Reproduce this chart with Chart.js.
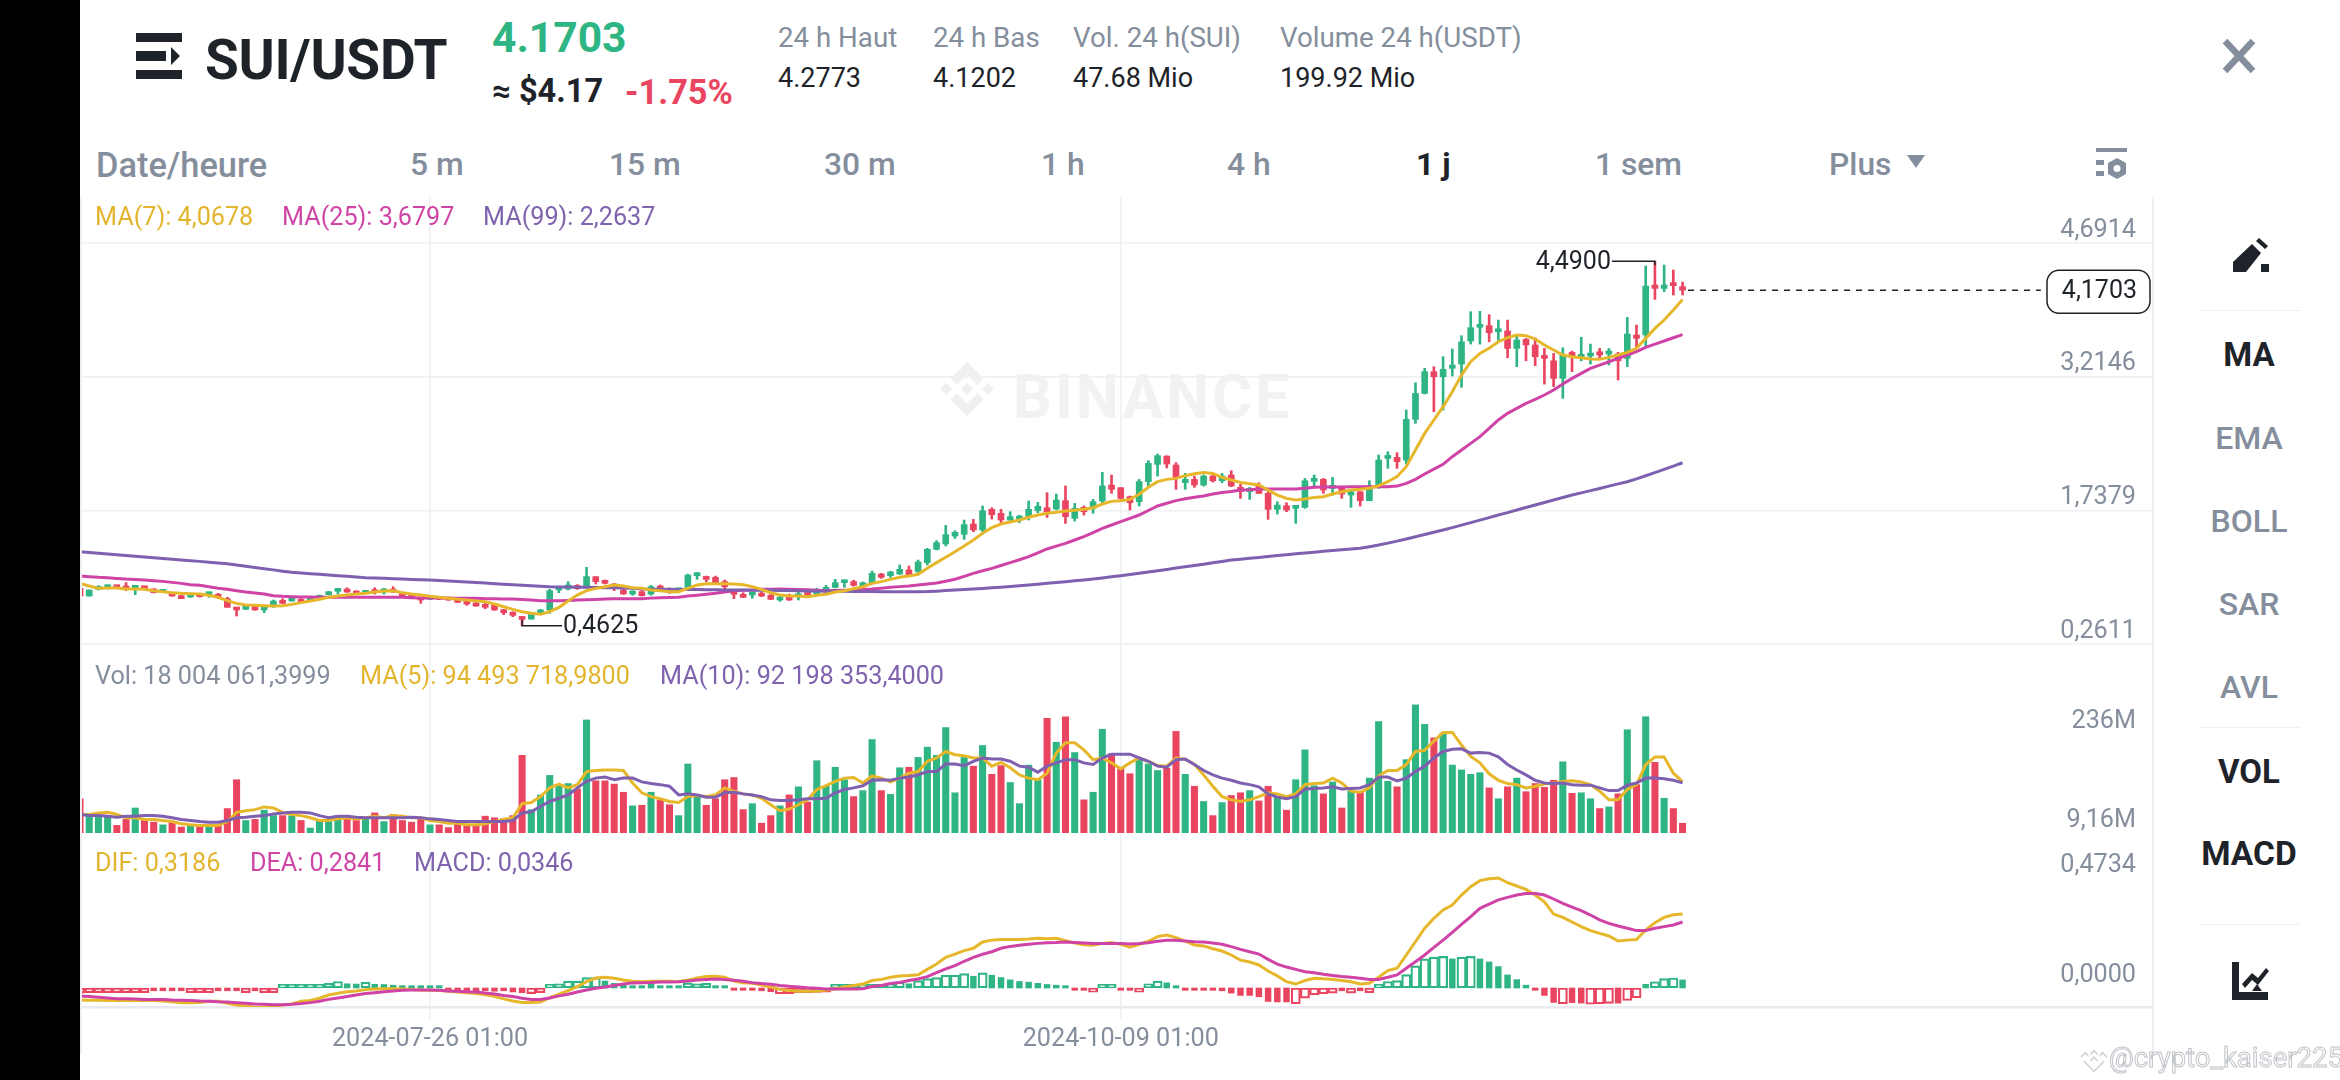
<!DOCTYPE html>
<html><head><meta charset="utf-8">
<script src="https://cdn.jsdelivr.net/npm/chart.js@4"></script>
<style>
html,body{margin:0;padding:0;background:#fff;width:2340px;height:1080px;overflow:hidden;font-family:Roboto,sans-serif;color:#1E2329}
canvas{position:absolute;left:80px}
.t{position:absolute;white-space:nowrap;line-height:1;transform:translateY(-50%)}
.c{transform:translate(-50%,-50%)}
.g{color:#848E9C}.b{font-weight:700}.m{font-weight:500}
.y{color:#E3B52E}.p{color:#CF45A6}.v{color:#7F63AE}
.l{font-size:25.2px}.h{font-size:27.7px}.hv{font-size:27px}.tab{font-size:31.8px;font-weight:500;color:#848E9C}.s{font-size:32px;font-weight:500;color:#848E9C}
.sep{position:absolute;left:2199px;width:102px;height:1px;background:#EEF0F2}
svg{position:absolute}
</style></head><body>
<svg style="left:940px;top:362px" width="54" height="54" viewBox="6 6 20 20"><path fill="#EFF0F2" d="M12.116 14.404L16 10.52l3.886 3.886 2.26-2.26L16 6l-6.144 6.144 2.26 2.26zM6 16l2.26-2.26L10.52 16l-2.26 2.26L6 16zm6.116 1.596L16 21.48l3.886-3.886 2.26 2.259L16 26l-6.144-6.144-.003-.003 2.263-2.257zM21.48 16l2.26-2.26L26 16l-2.26 2.26L21.48 16zm-3.188-.002h.002V16L16 18.294l-2.291-2.29-.004-.004.004-.003.401-.402.195-.195L16 13.706l2.293 2.293z"/></svg>
<div class="t b" style="left:1013px;top:397px;font-size:61px;letter-spacing:3px;color:#F1F2F3">BINANCE</div>

<canvas id="priceChart" width="2072" height="449" style="top:197px"></canvas>
<canvas id="volChart" width="2072" height="191" style="top:644px"></canvas>
<canvas id="macdChart" width="2072" height="226" style="top:834px"></canvas>

<div style="position:absolute;left:0;top:0;width:80px;height:1080px;background:#000"></div>
<div style="position:absolute;left:80px;top:197px;width:1.5px;height:857px;background:#EEF0F2"></div>
<div style="position:absolute;left:2152px;top:197px;width:1.5px;height:857px;background:#EEF0F2"></div>

<svg style="left:136px;top:33px" width="48" height="46" viewBox="0 0 48 46"><path d="M0 0H46V9H0ZM0 37H46V46H0ZM0 18H30V28H0ZM35 14L44 23L35 32Z" fill="#1E2329"/></svg>
<div class="t b" style="left:205px;top:60px;font-size:55px;letter-spacing:-.3px">SUI/USDT</div>
<div class="t b" style="left:492px;top:37px;font-size:42.6px;color:#2FB583">4.1703</div>
<div class="t b" style="left:492px;top:91px;font-size:32.6px">≈ $4.17</div>
<div class="t b" style="left:625px;top:92px;font-size:34.3px;color:#EA4560">-1.75%</div>
<div class="t h g" style="left:778px;top:38px">24 h Haut</div><div class="t hv" style="left:778px;top:78px">4.2773</div>
<div class="t h g" style="left:933px;top:38px">24 h Bas</div><div class="t hv" style="left:933px;top:78px">4.1202</div>
<div class="t h g" style="left:1073px;top:38px">Vol. 24 h(SUI)</div><div class="t hv" style="left:1073px;top:78px">47.68 Mio</div>
<div class="t h g" style="left:1280px;top:38px">Volume 24 h(USDT)</div><div class="t hv" style="left:1280px;top:78px">199.92 Mio</div>
<svg style="left:2222px;top:38px" width="34" height="36" viewBox="0 0 34 36"><path d="M3 3L31 33M31 3L3 33" stroke="#848E9C" stroke-width="6.5" fill="none"/></svg>

<div class="t tab" style="left:96px;top:164.5px;font-size:34.4px">Date/heure</div>
<div class="t tab" style="left:410px;top:164.5px">5 m</div>
<div class="t tab" style="left:609px;top:164.5px">15 m</div>
<div class="t tab" style="left:824px;top:164.5px">30 m</div>
<div class="t tab" style="left:1041px;top:164.5px">1 h</div>
<div class="t tab" style="left:1227px;top:164.5px">4 h</div>
<div class="t tab b" style="left:1416px;top:164.5px;color:#1E2329;font-weight:700">1 j</div>
<div class="t tab" style="left:1595px;top:164.5px">1 sem</div>
<div class="t tab" style="left:1829px;top:164.5px">Plus</div>
<svg style="left:1907px;top:155px" width="18" height="14" viewBox="0 0 18 14"><path d="M0 0H18L9 13Z" fill="#848E9C"/></svg>
<svg style="left:2094px;top:147px" width="34" height="34" viewBox="0 0 34 34"><path d="M2 1H33V5H2ZM2 13H10V18H2ZM2 24H10V29H2Z" fill="#848E9C"/><path d="M23 11L32 16V27L23 32L14 27V16Z M23 18A3.5 3.5 0 1 0 23 25A3.5 3.5 0 1 0 23 18Z" fill="#848E9C" fill-rule="evenodd"/></svg>

<div class="t l y" style="left:95px;top:216.5px">MA(7): 4,0678</div>
<div class="t l p" style="left:282px;top:216.5px">MA(25): 3,6797</div>
<div class="t l v" style="left:483px;top:216.5px">MA(99): 2,2637</div>
<div class="t l g" style="left:95px;top:675.5px">Vol: 18 004 061,3999</div>
<div class="t l y" style="left:360px;top:675.5px">MA(5): 94 493 718,9800</div>
<div class="t l v" style="left:660px;top:675.5px">MA(10): 92 198 353,4000</div>
<div class="t l y" style="left:95px;top:862.5px">DIF: 0,3186</div>
<div class="t l p" style="left:250px;top:862.5px">DEA: 0,2841</div>
<div class="t l v" style="left:414px;top:862.5px">MACD: 0,0346</div>

<svg style="left:2232px;top:238px" width="38" height="36" viewBox="0 0 38 36"><path d="M1 34V24L20 6L29 15L14 34Z" fill="#1E2329"/><path d="M24 3L27 0L36 8L33 11Z M29 26H37V34H29Z" fill="#1E2329"/></svg>
<div class="sep" style="top:310px"></div>
<div class="t c b" style="left:2249px;top:354px;font-size:33px">MA</div>
<div class="t c s" style="left:2249px;top:438px">EMA</div>
<div class="t c s" style="left:2249px;top:521px">BOLL</div>
<div class="t c s" style="left:2249px;top:604px">SAR</div>
<div class="t c s" style="left:2249px;top:687px">AVL</div>
<div class="sep" style="top:727px"></div>
<div class="t c b" style="left:2249px;top:771px;font-size:33px">VOL</div>
<div class="t c b" style="left:2249px;top:854px;font-size:33.5px">MACD</div>
<div class="sep" style="top:924px"></div>
<svg style="left:2232px;top:962px" width="38" height="38" viewBox="0 0 38 38"><path d="M0 0H7V30H36V38H0Z" fill="#1E2329"/><path d="M10 22L20 11L26 16L34 6L37 9L26 23L20 18L13 26Z" fill="#1E2329"/><path d="M20 29L25 22L30 29Z" fill="#1E2329"/></svg>

<svg style="left:2080px;top:1049px" width="28" height="24" viewBox="0 0 30 24"><path d="M1 8L6 3L9 7M29 8L24 3L21 7M11 5L15 1L19 5M4 12L15 23L26 12M11 12L15 8L19 12" stroke="#C9CDD2" stroke-width="1.5" fill="none"/></svg>
<div class="t" style="left:2109px;top:1058px;font-size:27.5px;color:#fff;-webkit-text-stroke:1px #BFC3C8">@crypto_kaiser225</div>

<script>
/* candles: index 0 = 2024-06-18, one per day */
const indexes = [];
for (let i = 0; i < 175; i++) indexes.push(i);

const xTickIndexes = [38, 113];
const xTickLabels = ['2024-07-26 01:00', '2024-10-09 01:00'];
const priceTicks = [0.2611, 1.7379, 3.2146, 4.6914];
const volTop = [236];
const volBottom = [9.16];
const macdTicks = [0, 0.4734];
const lastPrice = 4.1703;
const highMark = 4.49;
const lowMark = 0.4625;

const priceOpen = [.876,.791,.865,.883,.905,.902,.876,.894,.869,.832,
.828,.784,.780,.813,.806,.806,.762,.662,.644,.684,
.637,.681,.740,.736,.747,.747,.766,.806,.843,.865,
.835,.821,.850,.835,.858,.817,.799,.773,.755,.777,
.766,.747,.725,.703,.695,.688,.629,.600,.563,.537,
.600,.637,.858,.869,.909,.883,1.005,.953,.924,.858,
.813,.839,.813,.902,.876,.850,.869,1.016,1.005,.997,
.950,.828,.806,.802,.821,.799,.747,.784,.784,.839,
.813,.839,.887,.939,.950,.894,.931,1.034,1.016,1.034,
1.079,1.06,1.16,1.307,1.366,1.454,1.473,1.587,1.521,1.749,
1.705,1.631,1.638,1.668,1.734,1.767,1.753,1.845,1.65,1.771,
1.76,1.841,2.018,1.988,1.889,1.834,2.055,2.246,2.338,2.239,
2.044,2.08,2.017,2.117,2.065,2.128,1.992,1.944,2.006,1.925,
1.749,1.789,1.76,1.771,2.058,2.08,1.981,1.999,1.907,1.944,
1.844,2.0,2.312,2.323,2.294,2.743,3.03,3.27,3.214,3.307,
3.354,3.609,3.76,3.778,3.711,3.72,3.527,3.627,3.565,3.435,
3.39,3.196,3.483,3.428,3.443,3.49,3.465,3.465,3.417,3.675,
3.675,4.227,4.19,4.253,4.209];

const priceClose = [.791,.858,.894,.905,.883,.865,.902,.872,.828,.858,
.791,.762,.817,.784,.828,.777,.666,.637,.688,.637,
.666,.736,.710,.762,.721,.773,.791,.839,.872,.835,
.813,.846,.828,.869,.835,.795,.777,.747,.777,.755,
.747,.721,.703,.681,.666,.637,.607,.578,.533,.589,
.637,.850,.876,.913,.872,1.005,.950,.931,.880,.813,
.839,.795,.894,.858,.828,.868,1.023,1.034,.975,.939,
.894,.81,.777,.821,.791,.755,.777,.747,.813,.802,
.85,.887,.939,.957,.909,.939,1.042,.997,1.057,1.086,
1.023,1.167,1.307,1.381,1.469,1.495,1.58,1.521,1.734,1.69,
1.631,1.668,1.675,1.749,1.782,1.72,1.852,1.668,1.76,1.723,
1.834,2.007,1.97,1.87,1.822,2.055,2.257,2.342,2.25,2.103,
2.08,2.018,2.117,2.065,2.117,2.006,1.944,1.981,1.925,1.749,
1.796,1.741,1.778,2.065,2.08,1.962,2.006,1.918,1.944,1.844,
1.981,2.294,2.338,2.276,2.743,3.03,3.27,3.214,3.295,3.343,
3.6,3.756,3.785,3.7,3.73,3.527,3.62,3.565,3.435,3.417,
3.196,3.454,3.435,3.454,3.472,3.454,3.49,3.39,3.686,3.638,
4.216,4.19,4.227,4.22,4.1703];

const priceHigh = [.876,.858,.905,.913,.909,.939,.909,.898,.872,.861,
.832,.802,.821,.817,.835,.821,.777,.662,.692,.688,
.688,.747,.762,.766,.762,.780,.802,.843,.876,.883,
.850,.850,.883,.876,.894,.821,.802,.777,.780,.780,
.769,.751,.736,.718,.718,.692,.644,.618,.563,.593,
.644,.865,.883,.950,.917,1.108,1.005,.968,.931,.876,
.850,.850,.909,.913,.88,.875,1.034,1.049,1.012,1.012,
.968,.832,.828,.825,.835,.821,.784,.813,.835,.858,
.876,.909,.975,.96,.965,.946,1.068,1.042,1.064,1.134,
1.123,1.189,1.318,1.403,1.572,1.513,1.631,1.638,1.786,1.767,
1.749,1.723,1.683,1.841,1.826,1.933,1.918,2.007,1.815,1.786,
1.86,2.158,2.128,1.99,1.896,2.08,2.287,2.36,2.34,2.265,
2.147,2.117,2.128,2.128,2.146,2.176,2.025,1.992,2.043,1.944,
1.833,1.822,1.78,2.09,2.128,2.09,2.102,2.006,1.97,1.944,
2.065,2.349,2.386,2.375,2.846,3.148,3.307,3.325,3.435,3.52,
3.667,3.933,3.936,3.9,3.84,3.84,3.682,3.638,3.645,3.527,
3.472,3.535,3.498,3.65,3.575,3.527,3.527,3.483,3.87,3.785,
4.437,4.49,4.448,4.393,4.26];

const priceLow = [.791,.791,.858,.869,.880,.850,.806,.869,.825,.828,
.788,.762,.777,.780,.777,.762,.666,.570,.640,.633,
.607,.666,.706,.732,.718,.743,.758,.802,.813,.832,
.810,.817,.813,.813,.832,.791,.773,.710,.751,.751,
.743,.718,.688,.677,.651,.633,.585,.563,.4625,.533,
.593,.600,.828,.858,.865,.880,.924,.924,.85,.81,
.799,.79,.799,.85,.82,.84,.85,.976,.95,.935,
.865,.762,.773,.766,.784,.75,.732,.743,.747,.784,
.80,.828,.88,.887,.90,.89,.924,.987,.997,1.03,
1.005,1.023,1.134,1.30,1.344,1.428,1.417,1.502,1.502,1.642,
1.594,1.624,1.602,1.631,1.712,1.66,1.742,1.594,1.62,1.686,
1.705,1.815,1.926,1.86,1.742,1.786,2.007,2.117,2.206,1.97,
1.97,1.992,2.006,2.05,2.043,1.999,1.87,1.859,1.925,1.638,
1.697,1.723,1.594,1.76,2.006,1.925,1.907,1.87,1.771,1.785,
1.844,1.981,2.202,2.202,2.25,2.699,3.023,2.828,2.846,3.222,
3.097,3.575,3.575,3.6,3.6,3.424,3.325,3.39,3.336,3.133,
3.104,2.975,3.27,3.39,3.354,3.417,3.343,3.178,3.325,3.546,
3.546,4.069,4.154,4.117,4.117];

const ma7 = [.931,.902,.876,.880,.880,.869,.869,.865,.850,.839,
.828,.821,.817,.813,.799,.777,.740,.710,.692,.688,
.684,.681,.684,.699,.718,.736,.755,.777,.791,.802,
.813,.821,.835,.847,.850,.828,.813,.802,.788,.777,
.766,.755,.747,.736,.729,.703,.673,.644,.618,.600,
.589,.618,.666,.736,.802,.850,.876,.894,.913,.902,
.883,.876,.858,.850,.839,.839,.876,.913,.928,.928,
.928,.924,.917,.894,.865,.828,.802,.791,.791,.784,
.799,.810,.836,.850,.872,.894,.931,.950,.975,.998,
1.012,1.031,1.097,1.160,1.219,1.281,1.344,1.410,1.484,1.546,
1.587,1.609,1.631,1.661,1.686,1.705,1.716,1.731,1.738,1.749,
1.767,1.808,1.837,1.845,1.859,1.915,1.992,2.055,2.080,2.091,
2.121,2.143,2.157,2.146,2.102,2.073,2.047,2.032,2.018,1.962,
1.907,1.870,1.852,1.863,1.881,1.889,1.918,1.944,1.962,1.970,
1.981,2.010,2.054,2.110,2.22,2.404,2.588,2.736,2.883,3.049,
3.233,3.38,3.472,3.528,3.601,3.645,3.675,3.668,3.631,3.564,
3.509,3.454,3.435,3.424,3.41,3.406,3.428,3.454,3.483,3.528,
3.638,3.748,3.841,3.951,4.0678];

const ma25 = [1.012,1.005,.998,.994,.986,.979,.975,.968,.961,.953,
.942,.931,.916,.909,.894,.876,.865,.85,.835,.824,
.813,.795,.788,.784,.78,.78,.777,.777,.777,.777,
.777,.777,.777,.777,.777,.777,.773,.769,.769,.769,
.766,.766,.766,.766,.762,.762,.758,.758,.754,.747,
.74,.74,.74,.743,.747,.751,.754,.758,.762,.762,
.762,.762,.768,.773,.775,.777,.791,.801,.811,.821,
.836,.85,.854,.858,.865,.867,.869,.867,.864,.861,
.855,.85,.853,.855,.858,.864,.869,.878,.887,.895,
.902,.913,.924,.935,.955,.976,1.008,1.042,1.07,1.097,
1.128,1.16,1.192,1.226,1.268,1.311,1.342,1.373,1.41,1.447,
1.492,1.539,1.576,1.613,1.65,1.686,1.736,1.786,1.816,1.845,
1.865,1.883,1.896,1.918,1.936,1.947,1.962,1.966,1.973,1.973,
1.973,1.973,1.973,1.981,1.992,1.995,1.995,1.995,1.999,1.999,
1.999,1.999,1.999,2.006,2.036,2.08,2.139,2.194,2.246,2.331,
2.404,2.478,2.552,2.644,2.736,2.81,2.865,2.92,2.964,3.012,
3.067,3.134,3.196,3.251,3.307,3.343,3.38,3.417,3.454,3.491,
3.539,3.575,3.609,3.645,3.6797];

const ma99 = [1.281,1.273,1.264,1.256,1.248,1.24,1.231,1.223,1.215,1.206,
1.198,1.19,1.182,1.174,1.165,1.157,1.148,1.134,1.12,1.107,
1.093,1.08,1.066,1.053,1.046,1.038,1.031,1.024,1.016,1.009,
1.001,.994,.990,.987,.983,.979,.975,.972,.968,.963,
.957,.951,.946,.94,.934,.928,.922,.917,.911,.905,
.899,.894,.892,.89,.888,.887,.885,.883,.882,.88,
.878,.869,.867,.866,.865,.864,.863,.862,.861,.860,
.859,.858,.857,.856,.855,.854,.852,.851,.849,.848,
.847,.845,.844,.843,.842,.841,.840,.839,.839,.839,
.839,.839,.840,.845,.851,.857,.863,.869,.875,.882,
.889,.896,.905,.913,.922,.932,.941,.950,.959,.968,
.979,.991,1.003,1.016,1.03,1.042,1.056,1.07,1.084,1.1,
1.115,1.128,1.143,1.158,1.173,1.188,1.198,1.208,1.218,1.228,
1.238,1.248,1.258,1.267,1.276,1.285,1.294,1.303,1.311,1.318,
1.335,1.354,1.376,1.398,1.421,1.446,1.471,1.496,1.521,1.547,
1.574,1.602,1.63,1.658,1.686,1.713,1.741,1.769,1.797,1.825,
1.852,1.88,1.907,1.931,1.956,1.98,2.005,2.03,2.054,2.085,
2.12,2.155,2.19,2.226,2.2637];

const volume = [63,31,29,31,14,25,46,23,20,15,
19,11,14,12,12,13,45,98,23,25,
42,32,32,32,23,9.16,23,21,32,25,
23,26,37,21,34,23,20,25,15,15,
10,17,15,15,31,28,26,32,143,43,
70,106,86,91,81,208,96,96,90,75,
50,51,75,61,52,32,127,66,51,63,
98,102,43,54,18,32,50,70,85,57,
133,86,121,98,67,78,172,78,71,120,
121,139,158,143,194,74,139,123,161,108,
124,93,54,125,98,211,167,214,148,61,
75,191,146,118,109,134,127,115,119,187,
108,86,58,32,56,69,74,78,59,86,
67,42,98,153,87,72,94,46,77,75,
101,205,95,85,135,236,200,175,184,125,
116,108,111,83,63,85,101,76,91,84,
97,131,73,74,63,45,48,72,190,89,
214,130,64,45,18.0];

const volMa5 = [34,34,37,38,34,28,28,25,25,23,
21,17,15,14,14,14,21,38,41,43,
48,46,38,34,32,28,23,23,26,28,
26,28,31,28,32,31,28,28,23,21,
18,18,15,15,17,21,25,28,54,56,
67,83,90,83,89,113,115,116,116,115,
92,74,67,63,58,56,67,69,67,70,
83,77,72,70,64,52,41,44,52,61,
80,87,95,101,102,92,105,101,94,101,
110,113,132,138,150,144,142,138,138,123,
130,120,107,101,98,110,147,166,166,153,
135,138,129,118,129,138,132,124,123,138,
136,126,107,86,67,61,58,61,67,74,
72,67,72,89,91,92,101,92,77,75,
83,105,115,115,126,150,152,169,185,185,
162,141,129,109,97,91,89,83,86,90,
92,95,96,94,89,77,61,61,80,89,
126,140,140,110,94.49];

const volMa10 = [34,32,32,31,29,31,31,32,32,31,
28,25,23,21,20,20,23,28,29,31,
32,35,37,38,38,37,32,28,31,31,
29,28,28,28,28,28,29,28,26,25,
23,21,21,21,21,21,21,23,37,39,
49,58,64,70,83,95,101,103,98,101,
101,94,91,89,86,70,72,70,66,66,
74,75,72,70,67,61,60,60,61,63,
63,64,74,80,83,87,97,98,97,101,
103,107,113,113,127,127,124,132,138,136,
136,132,123,121,112,123,129,135,135,129,
126,138,145,145,145,138,132,123,121,135,
136,126,115,107,101,97,92,89,85,72,
66,63,67,81,82,83,85,81,82,83,
89,103,103,96,101,113,123,138,150,154,
155,147,148,147,140,126,116,107,97,92,
91,92,89,88,88,83,78,78,88,92,
101,101,100,97,92.2];

const dif = [-.052,-.053,-.053,-.054,-.054,-.054,-.054,-.054,-.054,-.056,
-.059,-.063,-.063,-.062,-.057,-.057,-.066,-.073,-.077,-.083,
-.083,-.079,-.073,-.069,-.057,-.054,-.044,-.030,-.023,-.016,
-.013,-.007,-.004,-.003,-.003,-.004,-.007,-.009,-.010,-.011,
-.014,-.017,-.020,-.024,-.029,-.036,-.047,-.056,-.062,-.062,
-.060,-.042,-.027,-.011,.006,.027,.043,.046,.042,.034,
.029,.027,.029,.029,.029,.027,.034,.043,.049,.050,
.046,.030,.023,.020,.013,.004,-.006,-.011,-.014,-.014,
-.013,-.009,-.003,.004,.011,.017,.032,.037,.046,.052,
.054,.057,.080,.103,.132,.146,.161,.171,.198,.206,
.209,.209,.209,.211,.214,.212,.214,.204,.194,.186,
.184,.192,.196,.188,.176,.188,.201,.221,.228,.217,
.202,.185,.181,.169,.159,.142,.120,.112,.099,.073,
.052,.027,.017,.032,.042,.040,.037,.032,.027,.017,
.020,.046,.075,.085,.142,.199,.257,.300,.336,.357,
.400,.436,.462,.470,.4734,.453,.439,.424,.400,.371,
.318,.304,.284,.264,.247,.235,.224,.202,.206,.209,
.250,.281,.304,.315,.3186];

const dea = [-.034,-.037,-.040,-.043,-.046,-.046,-.047,-.049,-.049,-.050,
-.052,-.053,-.054,-.056,-.057,-.059,-.060,-.063,-.066,-.069,
-.070,-.072,-.072,-.070,-.067,-.063,-.057,-.049,-.043,-.037,
-.030,-.024,-.020,-.016,-.013,-.010,-.009,-.009,-.009,-.010,
-.013,-.014,-.016,-.017,-.022,-.026,-.032,-.037,-.044,-.049,
-.049,-.043,-.034,-.027,-.017,-.009,-.001,.004,.011,.017,
.022,.023,.024,.026,.026,.027,.030,.034,.037,.039,
.037,.033,.029,.023,.019,.016,.011,.007,.004,.001,
-.001,-.004,-.004,-.004,-.004,-.003,.006,.011,.019,.024,
.032,.039,.049,.066,.082,.096,.115,.132,.145,.156,
.171,.179,.184,.188,.192,.195,.196,.198,.196,.194,
.192,.192,.192,.192,.189,.191,.195,.201,.205,.205,
.202,.199,.198,.194,.188,.178,.166,.156,.146,.123,
.103,.090,.080,.070,.066,.059,.054,.049,.046,.042,
.037,.037,.046,.056,.085,.113,.142,.175,.206,.239,
.274,.307,.343,.361,.379,.390,.400,.407,.407,.400,
.383,.364,.348,.333,.314,.293,.278,.267,.257,.247,
.247,.257,.264,.271,.2841];

const macd = [-.022,-.02,-.02,-.02,-.02,-.02,-.02,-.02,-.012,-.012,
-.012,-.012,-.02,-.02,-.02,-.012,-.012,-.012,-.02,-.012,
-.02,-.02,.016,.016,.016,.016,.016,.02,.028,.018,
.017,.025,.016,.015,.012,.01,.01,.01,.01,.01,
-.01,-.01,-.012,-.012,-.012,-.014,-.012,-.017,-.02,-.024,
-.02,.016,.018,.03,.03,.045,.045,.03,.02,.012,
.01,.01,.02,.01,.01,.01,.022,.018,.02,.01,
.01,-.01,-.01,-.01,-.012,-.016,-.025,-.024,-.02,-.02,
-.019,-.018,.016,.016,.016,.016,.016,.016,.018,.025,
.018,.032,.04,.045,.055,.055,.062,.05,.065,.055,
.045,.035,.028,.025,.02,.015,.012,.01,-.01,-.01,
-.018,.016,.016,-.01,-.01,-.018,.018,.03,.022,.01,
-.01,-.01,-.01,-.01,-.012,-.022,-.032,-.032,-.038,-.058,
-.06,-.06,-.068,-.044,-.03,-.025,-.022,-.012,-.022,-.012,
-.02,.016,.028,.032,.058,.095,.125,.133,.136,.125,
.133,.136,.125,.112,.092,.056,.036,.012,-.01,-.032,
-.062,-.068,-.063,-.065,-.07,-.068,-.066,-.065,-.054,-.042,
.016,.027,.04,.043,.0346];

/* days on which the histogram rose against the day before (drawn hollow) */
const macdRisingDays = [0,1,2,3,4,5,6,7,12,13,14,18,20,21,22,23,24,25,26,27,28,31,49,50,51,52,53,54,55,56,
66,67,68,76,77,78,79,80,81,82,83,84,85,86,87,88,89,91,92,93,94,95,96,98,110,111,112,115,116,117,
132,133,134,135,136,138,140,141,142,143,144,145,146,147,148,150,151,161,164,165,166,168,169,171,172,173];

const UP = '#2FB583', DOWN = '#EA4560', YEL = '#E6B72B', PINK = '#D043A6', PUR = '#7F5FAF';
const GRID = '#EEF0F2', TXT = '#848E9C', DARK = '#1E2329';
const FONT = {family: 'Roboto', size: 25.2};
const PITCH_MAX = 224.97;

const upAt = i => priceClose[i] >= priceOpen[i];
const candleColor = ctx => upAt(ctx.dataIndex) ? UP : DOWN;
const zeroPad = s => { s.paddingTop = s.paddingBottom = s.paddingLeft = s.paddingRight = 0; };

function xAxis(showLabels) {
  return {
    type: 'linear', min: 0, max: PITCH_MAX, offset: false,
    grid: {color: GRID, lineWidth: 1.5, offset: false, drawTicks: showLabels, tickLength: 13},
    border: {display: showLabels, color: '#E8EAF0', width: 2.5},
    afterBuildTicks: s => { s.ticks = xTickIndexes.map(v => ({value: v})); },
    ticks: {display: showLabels, font: {family: 'Roboto', size: 25.2}, color: TXT, padding: 5, maxRotation: 0, autoSkip: false,
      callback: v => xTickLabels[xTickIndexes.indexOf(v)]},
    afterFit: s => { zeroPad(s); s.height = showLabels ? 53 : 0; }
  };
}
function yAxis(min, max, tickVals, fmt, labelOffset, gridOn) {
  return {
    type: 'linear', position: 'right', min, max,
    grid: {display: gridOn, color: GRID, lineWidth: 1.5, drawTicks: false},
    border: {display: false},
    afterBuildTicks: s => { s.ticks = tickVals.map(v => ({value: v})); },
    ticks: {mirror: true, padding: -16, labelOffset, font: FONT, color: TXT, callback: fmt},
    afterFit: s => { zeroPad(s); s.width = 0; }
  };
}
const line = (data, color, order, yAxisID) => ({type: 'line', data, yAxisID: yAxisID || 'y', borderColor: color, borderWidth: 3,
  pointRadius: 0, tension: 0, order, fill: false});
const comma = (v, d) => v.toFixed(d).replace('.', ',');
const base = (padBottom) => ({responsive: false, animation: false, devicePixelRatio: 1, events: [],
  layout: {padding: {left: 0, right: 0, top: 0, bottom: padBottom}},
  plugins: {legend: {display: false}, tooltip: {enabled: false}}});

const markers = {
  id: 'markers',
  afterDatasetsDraw(chart) {
    const {x, y} = chart.scales, ctx = chart.ctx;
    ctx.save();
    ctx.font = '25px Roboto'; ctx.fillStyle = DARK; ctx.strokeStyle = DARK; ctx.lineWidth = 1.5;
    ctx.textBaseline = 'middle';
    // highest high
    const hx = x.getPixelForValue(priceHigh.indexOf(highMark)), hy = y.getPixelForValue(highMark);
    ctx.beginPath(); ctx.moveTo(hx, hy + 4); ctx.lineTo(hx, hy); ctx.lineTo(hx - 43, hy); ctx.stroke();
    ctx.textAlign = 'right'; ctx.fillText(comma(highMark, 4), hx - 44, hy + 1);
    // lowest low
    const lx = x.getPixelForValue(priceLow.indexOf(lowMark)), ly = y.getPixelForValue(lowMark);
    ctx.beginPath(); ctx.moveTo(lx, ly - 6); ctx.lineTo(lx, ly); ctx.lineTo(lx + 40, ly); ctx.stroke();
    ctx.textAlign = 'left'; ctx.fillText(comma(lowMark, 4), lx + 41, ly + 1);
    // last price tag
    const py = y.getPixelForValue(lastPrice), bx = chart.chartArea.right - 105;
    ctx.fillStyle = '#fff';
    ctx.beginPath(); ctx.roundRect(bx, py - 20, 103, 43, 12); ctx.fill(); ctx.stroke();
    ctx.fillStyle = DARK; ctx.textAlign = 'right'; ctx.fillText(comma(lastPrice, 4), chart.chartArea.right - 15, py + 2);
    ctx.restore();
  }
};

new Chart(document.getElementById('priceChart'), {
  type: 'bar',
  data: {labels: indexes, datasets: [
    {data: indexes.map(i => [priceLow[i], priceHigh[i]]), backgroundColor: candleColor, barThickness: 2, grouped: false, order: 6, yAxisID: 'y'},
    {data: indexes.map(i => [priceOpen[i], priceClose[i]]), backgroundColor: candleColor, barThickness: 6, grouped: false, order: 5, minBarLength: 3, yAxisID: 'y'},
    line(ma25, PINK, 3), line(ma99, PUR, 2), line(ma7, YEL, 1),
    {type: 'line', data: [{x: 174.6, y: lastPrice}, {x: 212.9, y: lastPrice}], yAxisID: 'y', borderColor: DARK, borderWidth: 1.4,
     borderDash: [6, 6], pointRadius: 0, order: 0}
  ]},
  options: {...base(2), scales: {
    x: xAxis(false),
    y: yAxis(0.2611, 5.2, priceTicks, v => comma(v, 4), -12.5, true)
  }},
  plugins: [markers]
});

new Chart(document.getElementById('volChart'), {
  type: 'bar',
  data: {labels: indexes, datasets: [
    {data: volume, backgroundColor: candleColor, barThickness: 6.4, grouped: false, order: 3, yAxisID: 'y'},
    line(volMa5, YEL, 2), line(volMa10, PUR, 1)
  ]},
  options: {...base(2), scales: {
    x: xAxis(false),
    y: yAxis(0, 347.8, volTop, v => v + 'M', 17, false),
    y2: yAxis(0, 347.8, volBottom, v => comma(v, 2) + 'M', -7.5, false)
  }}
});

const rising = new Set(macdRisingDays);
const macdColor = ctx => macd[ctx.dataIndex] >= 0 ? UP : DOWN;
new Chart(document.getElementById('macdChart'), {
  type: 'bar',
  data: {labels: indexes, datasets: [
    {data: indexes.map(i => rising.has(i) ? macd[i] : null), backgroundColor: '#fff', borderColor: macdColor, borderWidth: 2.2, borderSkipped: false,
     barThickness: 9.2, grouped: false, order: 4, yAxisID: 'y'},
    {data: indexes.map(i => rising.has(i) ? null : macd[i]), backgroundColor: macdColor, barThickness: 5.8, grouped: false, order: 3, yAxisID: 'y'},
    line(dif, YEL, 2), line(dea, PINK, 1)
  ]},
  options: {...base(0), scales: {
    x: xAxis(true),
    y: yAxis(-0.0818, 0.6627, macdTicks, v => comma(v, 4), -12.5, false)
  }}
});
</script>
</body></html>
